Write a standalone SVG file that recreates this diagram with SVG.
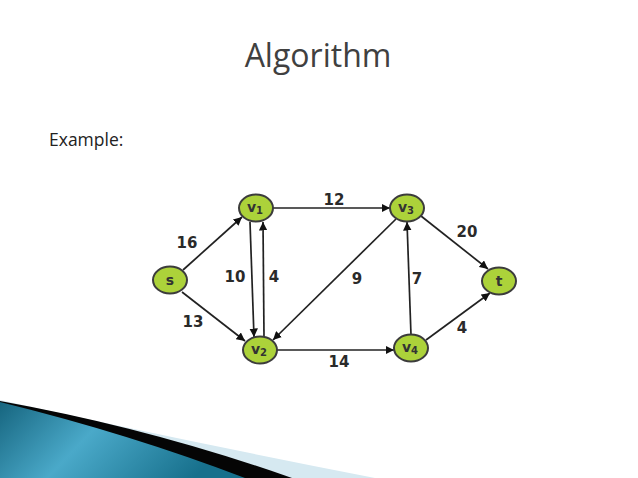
<svg xmlns="http://www.w3.org/2000/svg" width="638" height="478" viewBox="0 0 638 478">
<defs>
<style>
.title{font-family:"Open Sans","Liberation Sans",sans-serif;font-size:32px;fill:#404040}
.body{font-family:"Open Sans","Liberation Sans",sans-serif;font-size:17.5px;fill:#222}
.node ellipse{fill:#acd23a;stroke:#3c3c3c;stroke-width:2}
.nl{font-family:"DejaVu Sans","Liberation Sans",sans-serif;font-weight:bold;font-size:14px;fill:#333;text-anchor:middle}
.sub{font-size:10px}
.edge{stroke:#222;stroke-width:1.7;fill:none;marker-end:url(#ah)}
.el{font-family:"DejaVu Sans","Liberation Sans",sans-serif;font-weight:bold;font-size:15px;fill:#2a2a2a;text-anchor:middle}
</style>
<marker id="ah" viewBox="0 0 10 10" refX="10" refY="5" markerWidth="5" markerHeight="5" orient="auto" markerUnits="strokeWidth">
<path d="M0,0 L10,5 L0,10 z" fill="#111"/>
</marker>
<linearGradient id="teal" x1="0" y1="0" x2="1" y2="0.3">
<stop offset="0" stop-color="#16657f"/>
<stop offset="0.45" stop-color="#4aa9c9"/>
<stop offset="1" stop-color="#17708c"/>
</linearGradient>
</defs>
<rect width="638" height="478" fill="#ffffff"/>
<text class="title" x="318" y="67" text-anchor="middle">Algorithm</text>
<text class="body" x="49" y="146">Example:</text>
<g id="decoration">
<path d="M0,400 Q180,440 375,478 L0,478 z" fill="#d6e9f1"/>
<path d="M0,401 Q150,428 292,478 L0,478 z" fill="#050505"/>
<path d="M0,402 Q130,434 245,478 L0,478 z" fill="url(#teal)"/>
</g>
<g id="connectors">
<line class="edge" x1="183" y1="270" x2="242" y2="217"/>
<line class="edge" x1="182" y1="292" x2="245" y2="341"/>
<line class="edge" x1="273" y1="208" x2="390" y2="208"/>
<line class="edge" x1="250" y1="222" x2="254" y2="337"/>
<line class="edge" x1="264" y1="337" x2="263" y2="222"/>
<line class="edge" x1="396" y1="219" x2="273" y2="340"/>
<line class="edge" x1="277" y1="350" x2="394" y2="350"/>
<line class="edge" x1="411" y1="335" x2="407" y2="222"/>
<line class="edge" x1="421" y1="216" x2="488" y2="269"/>
<line class="edge" x1="426" y1="340" x2="490" y2="293"/>
<text class="el" x="187" y="248">16</text>
<text class="el" x="193" y="327">13</text>
<text class="el" x="235" y="282">10</text>
<text class="el" x="274" y="282">4</text>
<text class="el" x="334" y="205">12</text>
<text class="el" x="357" y="284">9</text>
<text class="el" x="417" y="284">7</text>
<text class="el" x="467" y="237">20</text>
<text class="el" x="462" y="333">4</text>
<text class="el" x="339" y="367">14</text>
</g>
<g id="s" class="node"><ellipse cx="170" cy="280" rx="17" ry="13.5"/><text class="nl" x="170" y="285">s</text></g>
<g id="v1" class="node"><ellipse cx="256" cy="208" rx="17" ry="13.5"/><text class="nl" x="255" y="212">v<tspan class="sub" dy="2">1</tspan></text></g>
<g id="v2" class="node"><ellipse cx="260" cy="350" rx="17" ry="13.5"/><text class="nl" x="259" y="354">v<tspan class="sub" dy="2">2</tspan></text></g>
<g id="v3" class="node"><ellipse cx="407" cy="208" rx="17" ry="13.5"/><text class="nl" x="406" y="212">v<tspan class="sub" dy="2">3</tspan></text></g>
<g id="v4" class="node"><ellipse cx="411" cy="348" rx="17" ry="13.5"/><text class="nl" x="410" y="352">v<tspan class="sub" dy="2">4</tspan></text></g>
<g id="t" class="node"><ellipse cx="499" cy="281" rx="17" ry="13.5"/><text class="nl" x="499" y="286">t</text></g>
</svg>
